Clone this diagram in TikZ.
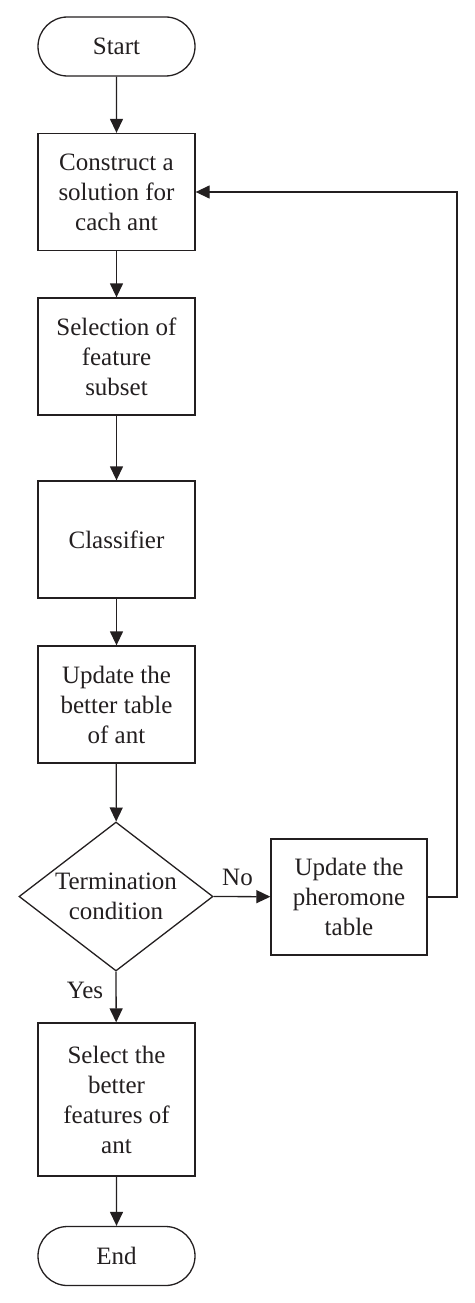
\documentclass[tikz,border=0pt]{standalone}
\usepackage{fontspec}
\setmainfont{Liberation Serif}
\usetikzlibrary{shapes.geometric,shapes.misc,arrows.meta}
\definecolor{ink}{HTML}{231F20}
\tikzset{
  every node/.style={text=ink, font=\fontsize{25}{30}\selectfont},
  box/.style={draw=ink, line width=1.3pt, rectangle, minimum width=157pt, minimum height=117pt, inner sep=0pt, align=center},
  term/.style={draw=ink, line width=1.3pt, rounded rectangle, minimum width=157pt, minimum height=59pt, inner sep=0pt},
  dia/.style={draw=ink, line width=1.3pt, diamond, minimum width=194pt, minimum height=149pt, inner sep=0pt},
  flow/.style={draw=ink, line width=1.3pt, -{Triangle[length=14pt,width=13pt]}},
}
\begin{document}
\begin{tikzpicture}[x=1pt,y=-1pt]
\useasboundingbox (0,0) rectangle (474,1303);
\node[term] (start) at (116.5,46.5) {Start};
\node[box] (b1) at (116.5,192) {Construct a\\solution for\\cach ant};
\node[box] (b2) at (116.5,356.5) {Selection of\\feature\\subset};
\node[box] (b3) at (116.5,539.5) {Classifier};
\node[box] (b4) at (116.5,704.5) {Update the\\better table\\of ant};
\node[dia] (d) at (116,896.5) {};
\node[align=center] (dt) at (d.center) {Termination\\condition};
\node[box, minimum width=156pt, minimum height=116pt] (u) at (349,897) {Update the\\pheromone\\table};
\node[box, minimum height=153pt] (b5) at (116.5,1099.5) {Select the\\better\\features of\\ant};
\node[term] (end) at (116.5,1256) {End};
\coordinate (c1) at (457,897);
\node (no) at (237.5,877) {No};
\node (yes) at (85,990) {Yes};
\draw[flow] (start) -- (b1);
\draw[flow] (b1) -- (b2);
\draw[flow] (b2) -- (b3);
\draw[flow] (b3) -- (b4);
\draw[flow] (b4) -- (d);
\draw[flow] (d.south) -- (b5);
\draw[flow] (d.east) -- (u);
\draw[flow] (u.east) -- (c1) |- (b1.east);
\draw[flow] (b5) -- (end);
\end{tikzpicture}
\end{document}
